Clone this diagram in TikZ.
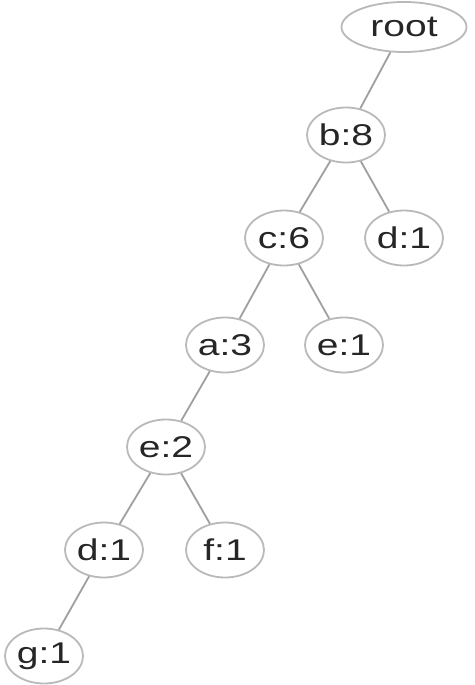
\documentclass[tikz,border=0pt]{standalone}
\usepackage{fontspec}
\setmainfont{Liberation Sans}[FakeStretch=1.3]
\usepackage{tikz}
\usetikzlibrary{shapes.geometric}

\tikzset{
  item/.style={ellipse, draw=gray!55, line width=1.8pt, inner sep=0pt,
    minimum width=78pt, minimum height=55pt, text=black!85,
    font=\fontsize{30}{30}\selectfont},
  link/.style={draw=gray!75, line width=1.8pt}
}

\begin{document}
\begin{tikzpicture}[x=1pt, y=-1pt]
      \useasboundingbox (0,0) rectangle (474,685);
      \node[item, minimum width=125pt, minimum height=50pt] (root) at (404,27) {root};
      \node[item] (b8) at (346,135) {b:8};
      \node[item] (c6) at (284,238) {c:6};
      \node[item] (d1r) at (404,238) {d:1};
      \node[item] (a3) at (225,345) {a:3};
      \node[item] (e1) at (344,345) {e:1};
      \node[item] (e2) at (166,447) {e:2};
      \node[item] (d1l) at (104,550) {d:1};
      \node[item] (f1) at (225,550) {f:1};
      \node[item] (g1) at (44,656) {g:1};
      % edges of the tree
      \draw[link] (root) -- (b8);
      \draw[link] (b8) -- (c6);
      \draw[link] (b8) -- (d1r);
      \draw[link] (c6) -- (a3);
      \draw[link] (c6) -- (e1);
      \draw[link] (a3) -- (e2);
      \draw[link] (e2) -- (d1l);
      \draw[link] (e2) -- (f1);
      \draw[link] (d1l) -- (g1);
    \end{tikzpicture}
\end{document}
